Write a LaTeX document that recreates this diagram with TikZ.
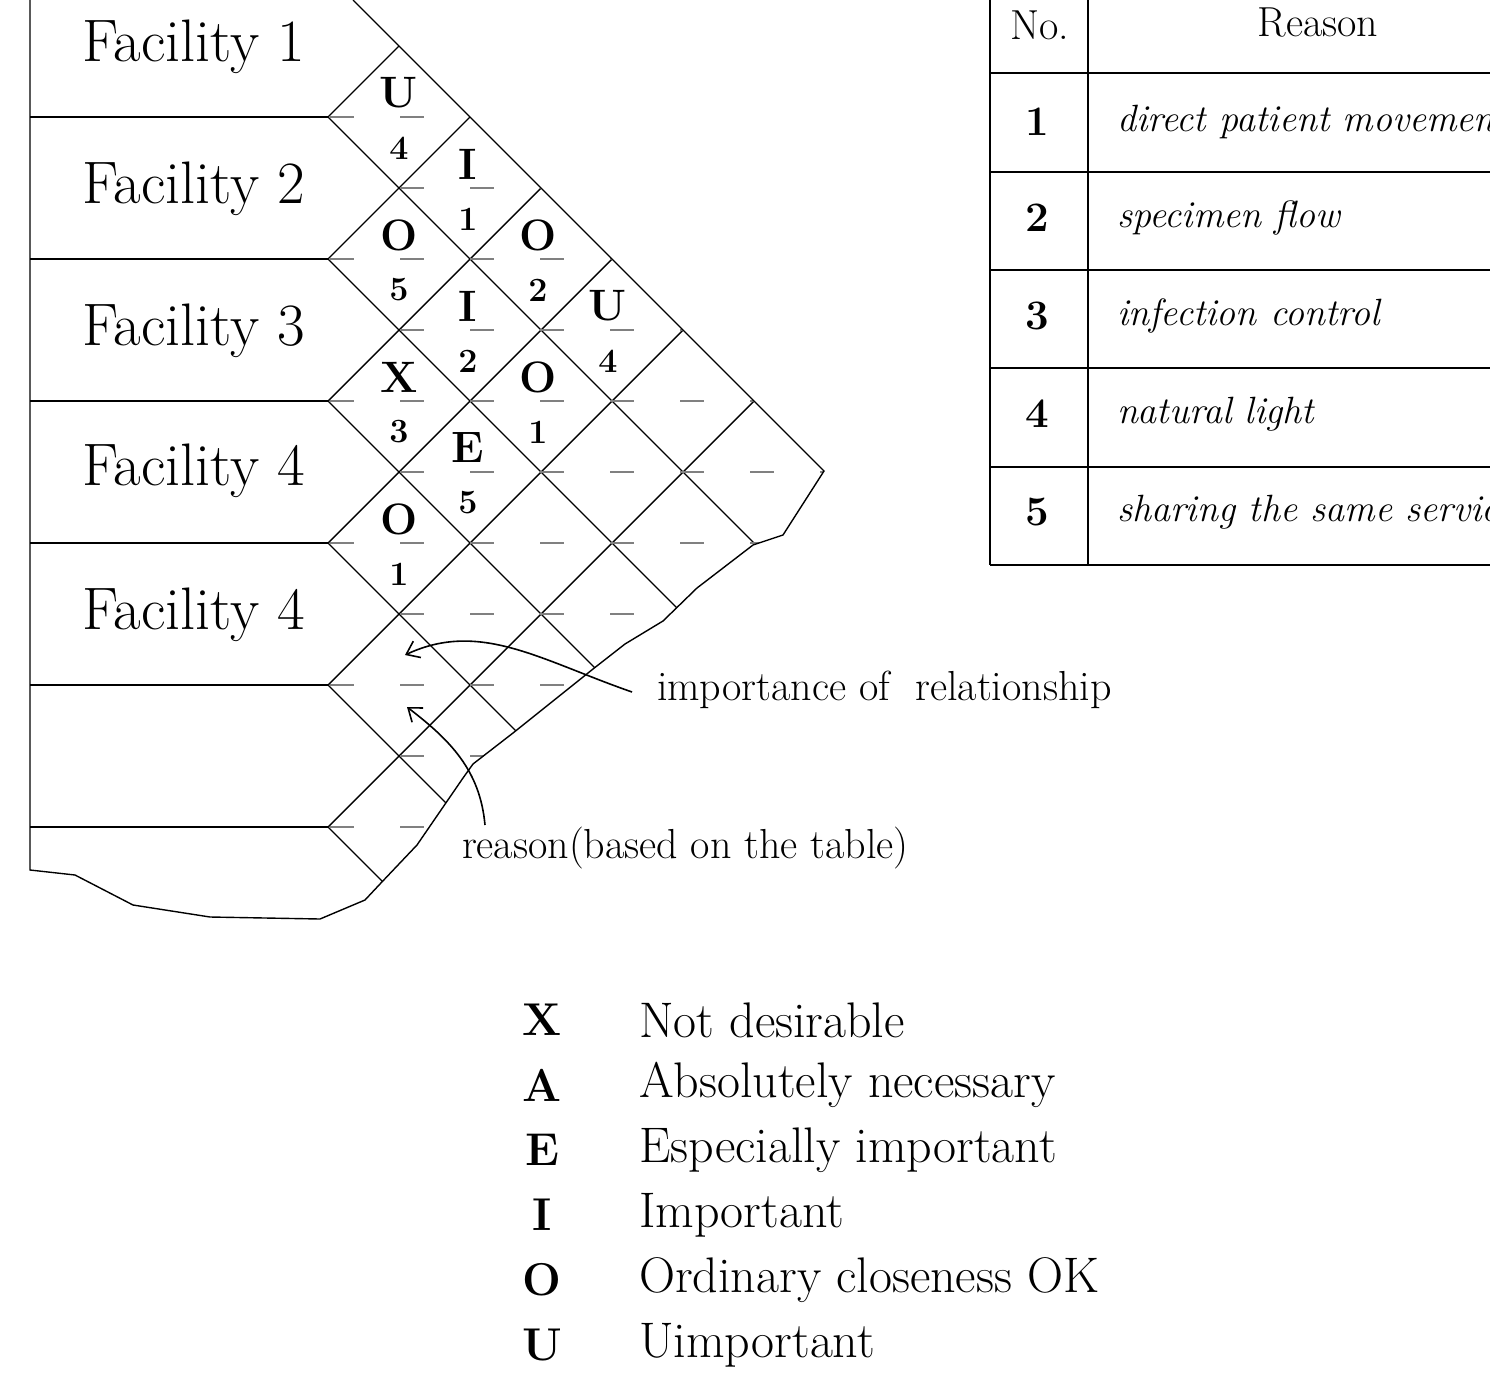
\documentclass[tikz,border=0pt]{standalone}
\usetikzlibrary{arrows.meta}
\begin{document}
\begin{tikzpicture}[x=0.5pt,y=-0.5pt,
  ln/.style={black,line width=0.7pt},
  dsh/.style={gray,line width=0.6pt,dash pattern=on 12pt off 23pt,dash phase=-1pt},
  fac/.style={anchor=west,font=\fontsize{30}{34}\selectfont},
  let/.style={font=\fontsize{22}{24}\selectfont\bfseries},
  num/.style={font=\fontsize{17}{19}\selectfont\bfseries},
  tb/.style={font=\fontsize{21}{24}\selectfont},
  it/.style={anchor=west,font=\fontsize{19}{22}\selectfont\itshape},
  lg/.style={font=\fontsize{25}{29}\selectfont},
  ann/.style={font=\fontsize{21}{24}\selectfont},
  arr/.style={-{Straight Barb[length=6pt,width=9pt]},line width=0.8pt}]
\useasboundingbox (0,0) rectangle (1490,1382);
% clipped grid
\begin{scope}
\clip (30,0)--(353,0)--(824,471)--(783,535)--(753,545)--(697,588)--(663,621)--(625,644)--(593,669)--(513,733)--(473,764)--(463,778)--(417,845)--(380,884)--(365,900)--(320,919)--(210,917)--(133,905)--(75,875)--(30,870)--cycle;
\foreach \j in {0,...,5}{
  \draw[ln] (328,117+142*\j)--++(900,900);
  \draw[ln] (328,117+142*\j)--++(900,-900);
}
\clip (328,117)--(399,188)--(328,259)--(399,330)--(328,401)--(399,472)--(328,543)--(399,614)--(328,685)--(399,756)--(328,827)--(399,898)--(950,950)--(950,-50)--(399,46)--cycle;
\foreach \k in {0,...,10}{
  \draw[dsh] (328,117+71*\k)--(900,117+71*\k);
}
\end{scope}
\draw[ln] (30,0)--(30,870)--(75,875)--(133,905)--(210,917)--(320,919)--(365,900)--(380,884)--(417,845)--(463,778)--(473,764)--(513,733)--(593,669)--(625,644)--(663,621)--(697,588)--(753,545)--(783,535)--(824,471)--(353,0);
\foreach \j in {0,...,5}{\draw[ln] (30,117+142*\j)--(328,117+142*\j);}
% facility labels
\node[fac] (f1) at (75,47) {Facility 1};
\node[fac] (f2) at (75,189) {Facility 2};
\node[fac] (f3) at (75,331) {Facility 3};
\node[fac] (f4) at (75,471) {Facility 4};
\node[fac] (f5) at (75,615) {Facility 4};
% cells
\foreach \x/\y/\L/\N [count=\i] in {399/117/U/4,399/259/O/5,399/401/X/3,399/543/O/1,468/188/I/1,468/330/I/2,468/472/E/5,538/259/O/2,538/401/O/1,608/330/U/4}{
  \node[let] (l\i) at (\x,\y-24) {\L};
  \node[num] (n\i) at (\x,\y+31) {\N};
}
% table
\begin{scope}
\clip (980,-5) rectangle (1490,580);
\foreach \y in {73,172,270,368,467,565}{\draw[ln] (990,\y)--(1500,\y);}
\draw[ln] (990,0)--(990,565);
\draw[ln] (1088,0)--(1088,565);
\node[tb] (h1) at (1040,25) {No.};
\node[tb] (h2) at (1318,22) {Reason};
\foreach \y/\n/\t [count=\i] in {122/1/direct patient movement,218/2/specimen flow,316/3/infection control,414/4/natural light,512/5/sharing the same service}{
  \node[tb,font=\fontsize{21}{24}\selectfont\bfseries] (tn\i) at (1037,\y) {\n};
  \node[it] (tt\i) at (1110,\y) {\t};
}
\end{scope}
% annotations
\node[ann,anchor=west] (a1) at (650,690) {importance of\ \ relationship};
\node[ann,anchor=west] (a2) at (455,848) {reason(based on the table)};
\coordinate (t1) at (405,655);
\coordinate (t2) at (407,707);
\draw[arr] (a1.west) ++(-18,2) .. controls (540,660) and (480,620) .. (t1);
\draw[arr] (485,825) .. controls (480,770) and (450,740) .. (t2);
% legend
\foreach \l/\t/\y [count=\i] in {X/Not desirable/1020,A/Absolutely necessary/1085,E/Especially important/1150,I/Important/1215,O/Ordinary closeness OK/1280,U/Uimportant/1345}{
  \node[lg,font=\fontsize{23}{27}\selectfont\bfseries] (k\i) at (542,\y) {\l};
  \node[lg,anchor=west] (d\i) at (632,\y) {\t};
}
\end{tikzpicture}
\end{document}
